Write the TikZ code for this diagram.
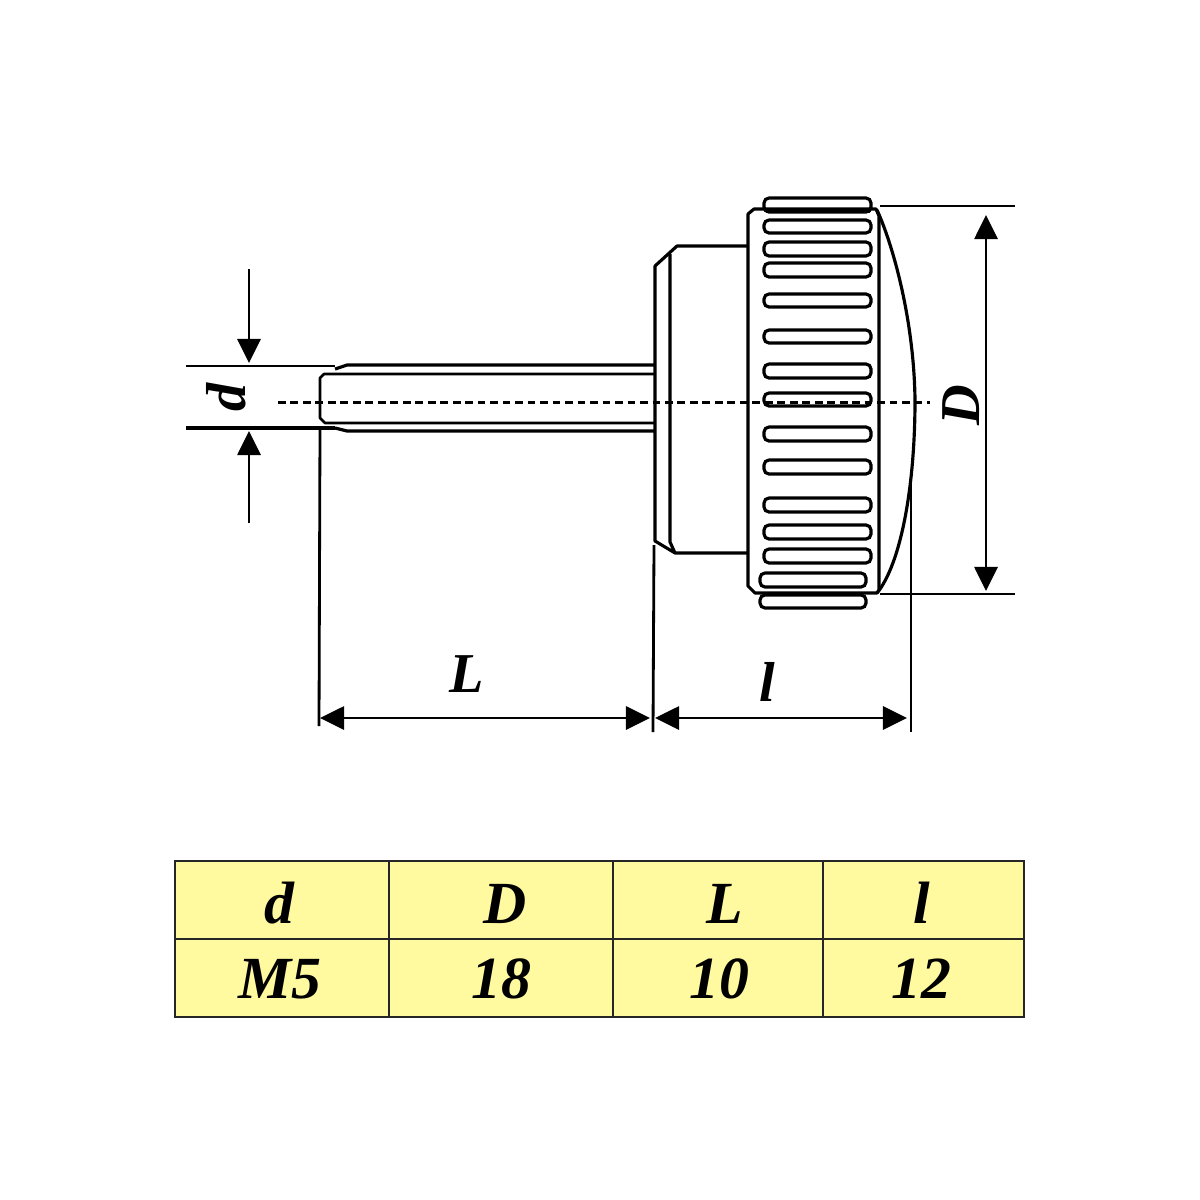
\documentclass[tikz,border=0pt]{standalone}
\usepackage{fontspec}
\setmainfont{Liberation Serif}
\usetikzlibrary{arrows.meta}
\definecolor{cellyellow}{HTML}{FFF9A0}
\tikzset{
  part/.style={line width=0.9pt,line join=round,black},
  thin part/.style={line width=0.75pt,line join=round,black},
  slot/.style={line width=0.9pt,rounded corners=0.05cm,black},
  dim/.style={line width=0.8pt,black,{Triangle[length=0.24cm,width=0.23cm]}-{Triangle[length=0.24cm,width=0.23cm]}},
  lead/.style={line width=0.8pt,black,-{Triangle[length=0.24cm,width=0.23cm]}},
  ext/.style={line width=0.8pt,black},
  axis/.style={line width=0.85pt,black,dash pattern=on 2.2pt off 1.35pt},
  lab/.style={font=\fontsize{16}{16}\selectfont\bfseries\itshape,inner sep=0pt},
  celltext/.style={font=\fontsize{17}{17}\selectfont\bfseries\itshape,inner sep=0pt},
  cellbox/.style={draw=black!85,line width=0.75pt,fill=cellyellow}
}
\begin{document}
\begin{tikzpicture}[x=0.01cm,y=-0.01cm]
\useasboundingbox (0,0) rectangle (1200,1200);
\fill[white] (0,0) rectangle (1200,1200);
% slots
\foreach \a/\b in {198/212,220/233,242/256,263/277,294/307,330/343,364/378,393/406,427/441,460/474,498/512,525/539,549/563}
  \draw[slot] (764,\a) rectangle (871,\b);
\foreach \a/\b in {573/587,595/608}
  \draw[slot] (760,\a) rectangle (866,\b);
% knob body
\draw[part] (764,209) -- (754,209) -- (748,214) -- (748,586) -- (755,593) -- (877,593) -- (879,590) -- (879,216) -- (876,209) -- (764,209);
\draw[part,line width=1.3pt] (766,211) -- (870,211);
% dome
\draw[part] (877,210) .. controls (893,245) and (914,320) .. (915,400) .. controls (915,490) and (900,565) .. (877,593);
% collar
\draw[part] (747,246) -- (677,246) -- (655,266) -- (655,541) -- (675,553) -- (747,553);
\draw[part] (670,254) -- (670,542) -- (675,553);
% shank
\draw[part] (655,365) -- (347,365) -- (335,369);
\draw[thin part] (655,374) -- (324,374) -- (320,378) -- (320,418) -- (325,423) -- (655,423);
\draw[part] (655,431) -- (347,431) -- (335,428);
% axis
\draw[axis] (278,402) -- (930,402);
% extension lines
\draw[ext] (186,366) -- (335,366);
\draw[ext,line width=1pt] (186,428) -- (335,428);
\draw[ext] (880,206) -- (1015,206);
\draw[ext] (880,594) -- (1015,594);
\draw[ext] (320,428) -- (319,726);
\draw[ext] (654,545) -- (653,732);
\draw[ext] (911,480) -- (911,732);
% named ends of dimension lines
\coordinate (dTop) at (249,269);
\coordinate (dTopEnd) at (249,363);
\coordinate (dBot) at (249,523);
\coordinate (dBotEnd) at (249,431);
\coordinate (DA) at (986,215);
\coordinate (DB) at (986,591);
\coordinate (LA) at (320,718);
\coordinate (LB) at (650,718);
\coordinate (lA) at (655,718);
\coordinate (lB) at (907,718);
\draw[lead] (dTop) -- (dTopEnd);
\draw[lead] (dBot) -- (dBotEnd);
\draw[dim] (DA) -- (DB);
\draw[dim] (LA) -- (LB);
\draw[dim] (lA) -- (lB);
% labels
\node[lab,rotate=90] (labd) at (226,397) {d};
\node[lab,rotate=90] (labD) at (961,405) {D};
\node[lab] (labL) at (467,674) {L};
\node[lab] (labl) at (767,682) {l};
% table
\foreach \xa/\xb/\n in {175/389/a,389/613/b,613/823/c,823/1024/e}{
  \draw[cellbox] (\xa,861) rectangle (\xb,939);
  \draw[cellbox] (\xa,939) rectangle (\xb,1017);
}
\node[celltext] (h1) at (279,903) {d};
\node[celltext] (h2) at (505,904) {D};
\node[celltext] (h3) at (725,904) {L};
\node[celltext] (h4) at (922,903) {l};
\node[celltext] (v1) at (280,979) {M5};
\node[celltext] (v2) at (501,979) {18};
\node[celltext] (v3) at (719,979) {10};
\node[celltext] (v4) at (921,979) {12};
\end{tikzpicture}
\end{document}
